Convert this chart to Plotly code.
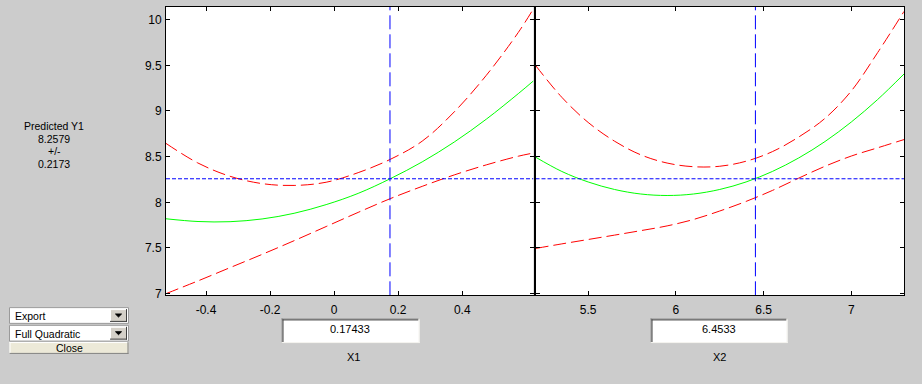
import plotly.graph_objects as go

W, H = 922, 384

# ---------------- data ----------------
x1_vals = [-0.525, -0.425, -0.325, -0.225, -0.125, -0.025, 0.075, 0.175, 0.275, 0.375, 0.475, 0.575, 0.6225]
y1_pred = [7.82, 7.79, 7.788, 7.818, 7.88, 7.975, 8.098, 8.258, 8.443, 8.66, 8.91, 9.19, 9.33]
y1_upper = [8.645, 8.43, 8.285, 8.205, 8.185, 8.22, 8.325, 8.47, 8.67, 8.99, 9.39, 9.86, 10.12]
y1_lower = [7.0, 7.14, 7.285, 7.43, 7.58, 7.735, 7.89, 8.04, 8.175, 8.30, 8.41, 8.505, 8.54]

x2_vals = [5.2, 5.35, 5.5, 5.65, 5.8, 5.95, 6.1, 6.25, 6.4, 6.55, 6.7, 6.85, 7.0, 7.15, 7.3]
y2_pred = [8.495, 8.338, 8.223, 8.141, 8.091, 8.075, 8.091, 8.141, 8.223, 8.338, 8.486, 8.666, 8.88, 9.126, 9.405]
y2_upper = [9.50, 9.15, 8.875, 8.67, 8.52, 8.43, 8.39, 8.395, 8.45, 8.555, 8.715, 8.92, 9.22, 9.64, 10.09]
y2_lower = [7.495, 7.545, 7.593, 7.641, 7.69, 7.742, 7.812, 7.905, 8.01, 8.13, 8.265, 8.395, 8.507, 8.597, 8.687]

x1_current = 0.17433
x2_current = 6.4533
y_pred_value = 8.2579
y_pred_ci = 0.2173

x1_range = [-0.525, 0.6225]
x2_range = [5.2, 7.3]
y_range = [6.982, 10.143]

x1_ticks = [-0.4, -0.2, 0, 0.2, 0.4]
x1_ticktext = ["-0.4", "-0.2", "0", "0.2", "0.4"]
x2_ticks = [5.5, 6, 6.5, 7]
x2_ticktext = ["5.5", "6", "6.5", "7"]
y_ticks = [7, 7.5, 8, 8.5, 9, 9.5, 10]
y_ticktext = ["7", "7.5", "8", "8.5", "9", "9.5", "10"]

# ---------------- helpers ----------------
def px(x):
    return x / W

def py(y):
    return 1 - y / H

GREEN = "#00ff00"
RED = "#ff0000"
BLUE = "#0000ff"
BG = "#cccccc"
FONT = "Liberation Sans"

fig = go.Figure()

def add_panel(xv, yp, yu, yl, xc, xr, xa, ya):
    fig.add_trace(go.Scatter(x=xv, y=yp, mode="lines", line=dict(color=GREEN, width=1, shape="spline"),
                             xaxis=xa, yaxis=ya, hoverinfo="skip"))
    for arr in (yu, yl):
        fig.add_trace(go.Scatter(x=xv, y=arr, mode="lines",
                                 line=dict(color=RED, width=1, shape="spline", dash="13px,5px"),
                                 xaxis=xa, yaxis=ya, hoverinfo="skip"))
    fig.add_trace(go.Scatter(x=xr, y=[y_pred_value, y_pred_value], mode="lines",
                             line=dict(color=BLUE, width=1, dash="4px,2px"),
                             xaxis=xa, yaxis=ya, hoverinfo="skip"))
    fig.add_trace(go.Scatter(x=[xc, xc], y=y_range, mode="lines",
                             line=dict(color=BLUE, width=1, dash="14px,5px"),
                             xaxis=xa, yaxis=ya, hoverinfo="skip"))

add_panel(x1_vals, y1_pred, y1_upper, y1_lower, x1_current, x1_range, "x", "y")
add_panel(x2_vals, y2_pred, y2_upper, y2_lower, x2_current, x2_range, "x2", "y2")

ydom = [py(300), py(6.7)]
axis_common = dict(showline=True, linecolor="black", linewidth=1, mirror="ticks",
                   ticks="inside", ticklen=4, tickwidth=1, tickcolor="black",
                   showgrid=False, zeroline=False, fixedrange=True,
                   tickfont=dict(family=FONT, size=12, color="black"))

fig.update_layout(
    width=W, height=H, autosize=False, margin=dict(l=0, r=0, t=0, b=0, pad=0),
    paper_bgcolor=BG, plot_bgcolor="white", showlegend=False,
    xaxis=dict(domain=[px(166), px(533.5)], range=x1_range, anchor="y",
               tickvals=x1_ticks, ticktext=x1_ticktext, ticklabelstandoff=3, **axis_common),
    xaxis2=dict(domain=[px(535.5), px(904)], range=x2_range, anchor="y2",
                tickvals=x2_ticks, ticktext=x2_ticktext, ticklabelstandoff=3, **axis_common),
    yaxis=dict(domain=ydom, range=y_range, anchor="x",
               tickvals=y_ticks, ticktext=y_ticktext, ticklabelstandoff=1, **axis_common),
    yaxis2=dict(domain=ydom, range=y_range, anchor="x2",
                tickvals=y_ticks, showticklabels=False, **axis_common),
)

shapes = []
annots = []

def text(x, y, s, size=11, anchor="center"):
    annots.append(dict(x=px(x), y=py(y), xref="paper", yref="paper", text=s, showarrow=False,
                       xanchor=anchor, yanchor="middle",
                       font=dict(family=FONT, size=size, color="black")))

def rect(x0, y0, x1, y1, fill, line=None):
    shapes.append(dict(type="rect", xref="paper", yref="paper",
                       x0=px(x0), y0=py(y0), x1=px(x1), y1=py(y1),
                       fillcolor=fill, line=dict(width=0) if line is None else dict(color=line, width=1)))

def hline(x0, x1, y, color):
    shapes.append(dict(type="line", xref="paper", yref="paper", x0=px(x0), x1=px(x1),
                       y0=py(y), y1=py(y), line=dict(color=color, width=1)))

def vline(x, y0, y1, color):
    shapes.append(dict(type="line", xref="paper", yref="paper", x0=px(x), x1=px(x),
                       y0=py(y0), y1=py(y1), line=dict(color=color, width=1)))

def sunken_box(x0, y0, x1, y1):
    rect(x0, y0, x1, y1, "white")
    hline(x0, x1, y0 + 0.5, "#808080")
    vline(x0 + 0.5, y0, y1, "#808080")
    hline(x0 + 1, x1 - 1, y0 + 1.5, "#404040")
    vline(x0 + 1.5, y0 + 1, y1 - 1, "#404040")
    hline(x0, x1, y1 - 0.5, "#f4f3ee")
    vline(x1 - 0.5, y0, y1, "#f4f3ee")

# value edit boxes under each panel
sunken_box(281.5, 323.5, 419.5, 348.5)
text(350, 334, f"{x1_current:.5f}".rstrip("0"), 11)
text(353, 363, "X1", 11)
sunken_box(650.5, 323.5, 787.5, 348.5)
text(719, 334, f"{x2_current:.4f}", 11)
text(719, 363, "X2", 11)

# prediction text
text(54, 128, "Predicted Y1", 10.5)
text(54, 141, f"{y_pred_value:.4f}", 10.5)
text(54, 153.5, "+/-", 10.5)
text(54, 167, f"{y_pred_ci:.4f}", 10.5)

# dropdowns
def dropdown(y0, y1, label):
    rect(9.5, y0, 128.5, y1, "white", "#9a9a9a")
    rect(110, y0 + 1.5, 127, y1 - 1.5, "#d4d0c8")
    hline(110, 127, y0 + 2, "white")
    vline(110.5, y0 + 1.5, y1 - 1.5, "white")
    hline(110, 127, y1 - 2, "#404040")
    vline(126.5, y0 + 1.5, y1 - 1.5, "#404040")
    cy = (y0 + y1) / 2
    shapes.append(dict(type="path", xref="paper", yref="paper",
                       path=f"M {px(115.5)} {py(cy - 1.5)} L {px(121.5)} {py(cy - 1.5)} L {px(118.5)} {py(cy + 1.5)} Z",
                       fillcolor="black", line=dict(color="black", width=1)))
    text(13, cy + 0.5, label, 10.5, anchor="left")

dropdown(312.5, 328.5, "Export")
dropdown(330.5, 346.5, "Full Quadratic")

# close button
rect(9.5, 347.5, 128.5, 359.5, "#ece9d8")
hline(9.5, 128.5, 348, "white")
vline(10, 347.5, 359.5, "white")
hline(9.5, 128.5, 359, "#808080")
vline(128, 347.5, 359.5, "#808080")
text(69, 354, "Close", 10.5)

fig.update_layout(shapes=shapes, annotations=annots)

fig.write_html("out.html", config={"responsive": False, "displayModeBar": False})
